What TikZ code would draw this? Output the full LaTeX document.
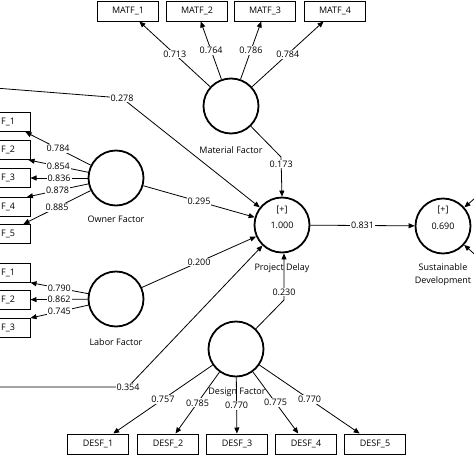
\documentclass[tikz,border=0pt]{standalone}
\usepackage{fontspec}
\setmainfont{Open Sans}
\usetikzlibrary{arrows.meta}

\begin{document}
\begin{tikzpicture}[x=1pt,y=-1pt,
    font=\fontsize{9}{10}\selectfont,
    lv/.style={draw,circle,line width=1.8pt,minimum size=55pt,inner sep=0pt},
    mv/.style={draw,line width=1pt,minimum width=61pt,minimum height=20pt,inner sep=0pt},
    lbox/.style={draw,line width=1pt,minimum height=19pt,text width=70pt,align=right,inner xsep=15pt,inner ysep=0pt},
    path/.style={line width=0.8pt,-{Triangle[length=6pt,width=5pt]}},
    lbl/.style={fill=white,inner sep=1pt}]
    \useasboundingbox (0,0) rectangle (474,474);
    \clip (0,0) rectangle (474,474);
    % latent variables
    \node[lv] (mf) at (231,106) {};
    \node[lv] (of) at (116,178) {};
    \node[lv] (lf) at (116,299) {};
    \node[lv] (df) at (236,349) {};
    \node[lv] (pd) at (282,225) {};
    \node[lv] (sd) at (443,226) {};
    \node (pdtag) at (282,210) {[+]};
    \node (pdr2) at (pd) {1.000};
    \node (sdtag) at (443,210) {[+]};
    \node (sdr2) at (sd) {0.690};
    \node (mfname) at (231,150) {Material Factor};
    \node (ofname) at (116,219) {Owner Factor};
    \node (lfname) at (116,342) {Labor Factor};
    \node (dfname) at (237,392) {Design Factor};
    \node (pdname) at (282,268) {Project Delay};
    \node[align=center] (sdname) at (443,275) {Sustainable\\[3pt]Development};
    % indicators
    \node[mv] (m1) at (128,11) {MATF\_1};
    \node[mv] (m2) at (197,11) {MATF\_2};
    \node[mv] (m3) at (265,11) {MATF\_3};
    \node[mv] (m4) at (335,11) {MATF\_4};
    \node[lbox] (o1) at (-20,122) {F\_1};
    \node[lbox] (o2) at (-20,150) {F\_2};
    \node[lbox] (o3) at (-20,178) {F\_3};
    \node[lbox] (o4) at (-20,207) {F\_4};
    \node[lbox] (o5) at (-20,234) {F\_5};
    \node[lbox] (l1) at (-20,273) {F\_1};
    \node[lbox] (l2) at (-20,300) {F\_2};
    \node[lbox] (l3) at (-20,328) {F\_3};
    \node[mv] (d1) at (98,444) {DESF\_1};
    \node[mv] (d2) at (168,444) {DESF\_2};
    \node[mv] (d3) at (237,444) {DESF\_3};
    \node[mv] (d4) at (306,444) {DESF\_4};
    \node[mv] (d5) at (375,444) {DESF\_5};
    % outer loadings
    \draw[path] (mf) -- node[lbl] {0.713} (m1);
    \draw[path] (mf) -- node[lbl] {0.764} (m2);
    \draw[path] (mf) -- node[lbl] {0.786} (m3);
    \draw[path] (mf) -- node[lbl] {0.784} (m4);
    \draw[path] (of) -- node[lbl] {0.784} ([xshift=-5pt]o1.south east);
    \draw[path] (of) -- node[lbl] {0.854} (o2);
    \draw[path] (of) -- node[lbl] {0.836} (o3);
    \draw[path] (of) -- node[lbl] {0.878} (o4);
    \draw[path] (of) -- node[lbl] {0.885} ([xshift=-7pt]o5.north east);
    \draw[path] (lf) -- node[lbl] {0.790} (l1);
    \draw[path] (lf) -- node[lbl] {0.862} (l2);
    \draw[path] (lf) -- node[lbl] {0.745} (l3.north east);
    \draw[path] (df) -- node[lbl] {0.757} (d1);
    \draw[path] (df) -- node[lbl] {0.785} (d2);
    \draw[path] (df) -- node[lbl] {0.770} (d3);
    \draw[path] (df) -- node[lbl] {0.775} (d4);
    \draw[path] (df) -- node[lbl] {0.770} (d5);
    % path coefficients
    \coordinate (mfbend) at (281,157);
    \coordinate (dfbend) at (284,300);
    \coordinate (in1) at (-5,88);
    \coordinate (b278) at (122,98);
    \coordinate (in2) at (-5,387);
    \coordinate (b354) at (128,387);
    \coordinate (in3) at (490,185);
    \coordinate (in4) at (490,268);
    \draw[path] (mf) -- (mfbend) -- node[lbl,pos=0.18] {0.173} (pd.north);
    \draw[path] (df) -- (dfbend) -- node[lbl,pos=0.17] {0.230} ([xshift=2pt]pd.south);
    \draw[path] (of) -- node[lbl] {0.295} (pd);
    \draw[path] (lf) -- node[lbl] {0.200} (pd);
    \draw[path] (in1) -- (b278) node[lbl] {0.278} -- (pd);
    \draw[path] (in2) -- (b354) node[lbl] {0.354} -- (pd);
    \draw[path] (pd) -- node[lbl] {0.831} (sd);
    \draw[path] (in3) -- (sd);
    \draw[path] (in4) -- (sd);
\end{tikzpicture}
\end{document}
